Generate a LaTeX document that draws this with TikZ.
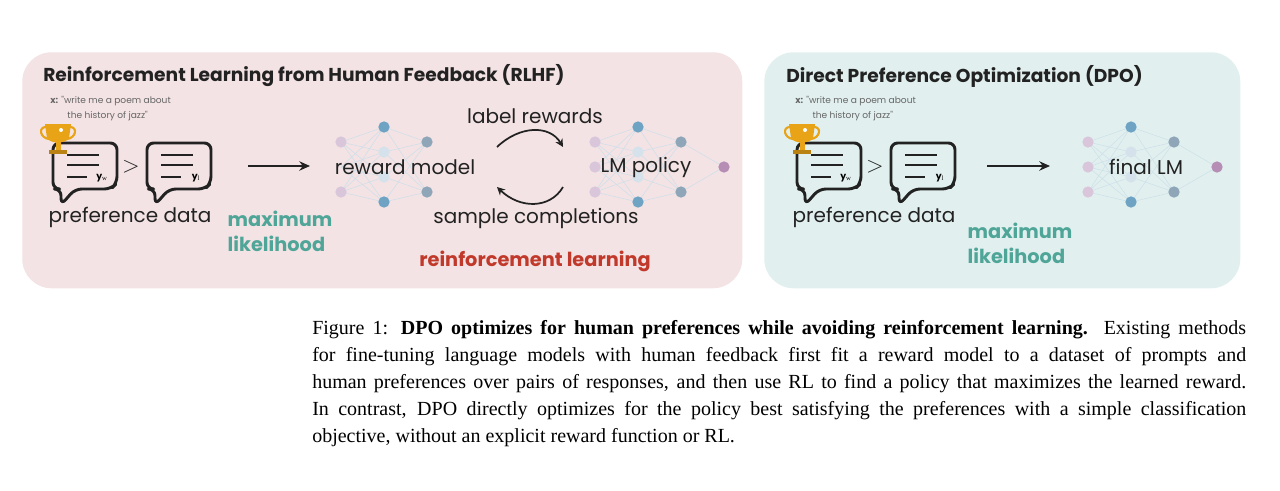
\documentclass[tikz,border=0pt]{standalone}
\usepackage{fontspec}
\setmainfont{Liberation Serif}
\newfontfamily\pop{Poppins}
\usetikzlibrary{arrows.meta}
\definecolor{pinkbg}{HTML}{F4E3E4}
\definecolor{tealbg}{HTML}{E1F0EF}
\definecolor{teal1}{HTML}{4FA597}
\definecolor{redl}{HTML}{C0392B}
\definecolor{nblue}{HTML}{6FA3C4}
\definecolor{nlblue}{HTML}{D6E2EB}
\definecolor{nslate}{HTML}{8EA6B8}
\definecolor{npurp}{HTML}{D9C6DA}
\definecolor{nout}{HTML}{B58DB5}
\definecolor{ink}{HTML}{222222}
\definecolor{gold}{HTML}{E8A317}
\tikzset{
  x=0.75pt,y=-0.75pt,
  lbl/.style={font=\pop\fontsize{15}{18}\selectfont,text=ink,inner sep=0},
  ttl/.style={font=\pop\bfseries\fontsize{14}{17}\selectfont,text=ink,inner sep=0,anchor=west},
  grn/.style={font=\pop\bfseries\fontsize{14.5}{17}\selectfont,text=teal1,inner sep=0,align=left},
  prompt/.style={font=\pop\fontsize{6.8}{11}\selectfont,text=black!60,inner sep=0,align=left,anchor=north west},
  neu/.style={circle,inner sep=0,minimum size=8.5pt},
  edge/.style={draw=nblue!35,line width=0.4pt},
  captxt/.style={font=\fontsize{15}{20}\selectfont,inner sep=0,anchor=base west},
  bub/.style={draw=ink,line width=2.2pt,line join=round,rounded corners=5pt},
  pics/bubble/.style args={#1}{code={
    \draw[bub] (8,46) -- (8,62) -- (22,46) -- (58,46) -- (64,40) -- (64,0) -- (0,0) -- (0,46) -- cycle;
    \draw[ink,line width=2pt] (14,12) -- (46,12) (14,22) -- (46,22) (14,34) -- (34,34);
    \node[inner sep=0,font=\pop\bfseries\fontsize{7}{8}\selectfont] at (49,35) {#1};
  }},
  pics/trophy/.style={code={
    \fill[gold] (-13,-16) -- (13,-16) -- (11,-2) .. controls (8,4) and (-8,4) .. (-11,-2) -- cycle;
    \draw[gold,line width=1.6pt] (-12,-13) .. controls (-20,-13) and (-18,-2) .. (-9,-1);
    \draw[gold,line width=1.6pt] (12,-13) .. controls (20,-13) and (18,-2) .. (9,-1);
    \fill[gold] (-2.5,2) rectangle (2.5,10);
    \fill[gold!80!black] (-9,10) rectangle (9,14);
    \fill[white] (3,-10) circle (1.5pt);
  }}
}
\newcommand\mynet[5]{% prefix, x0, y0 (center y), output?, middle-left?
  \foreach \i/\yy in {a/-25,b/0,c/25} \coordinate (#1L\i) at (#2,#3+\yy);
  \foreach \i/\yy in {a/-40,b/-15,c/10,d/35} \coordinate (#1M\i) at (#2+43,#3+\yy);
  \foreach \i/\yy in {a/-25,b/25} \coordinate (#1R\i) at (#2+86,#3+\yy);
  \coordinate (#1O) at (#2+129,#3);
  \foreach \p in {a,b,c}{\foreach \q in {a,b,c,d}{\draw[edge] (#1L\p) -- (#1M\q);}}
  \foreach \p in {a,b,c,d}{\foreach \q in {a,b}{\draw[edge] (#1M\p) -- (#1R\q);}}
  \ifnum#4=1 \foreach \q in {a,b}{\draw[edge] (#1R\q) -- (#1O);}\fi
  \node[neu,fill=npurp] at (#1La) {};
  \node[neu,fill=npurp] at (#1Lc) {};
  \ifnum#5=1 \node[neu,fill=npurp] at (#1Lb) {};\fi
  \node[neu,fill=nblue] at (#1Ma) {};
  \node[neu,fill=nlblue] at (#1Mb) {};
  \node[neu,fill=nlblue] at (#1Mc) {};
  \node[neu,fill=nblue] at (#1Md) {};
  \node[neu,fill=nslate] at (#1Ra) {};
  \node[neu,fill=nslate] at (#1Rb) {};
  \ifnum#4=1 \node[neu,fill=nout] at (#1O) {};\fi
}
\begin{document}
\begin{tikzpicture}
\useasboundingbox[fill=white] (0,0) rectangle (1280,490);
% panels
\node[fill=pinkbg,rounded corners=22pt,minimum width=540pt,minimum height=177pt,inner sep=0,anchor=north west] (rlhf) at (22,52) {};
\node[fill=tealbg,rounded corners=22pt,minimum width=357pt,minimum height=177pt,inner sep=0,anchor=north west] (dpo) at (764,52) {};
\node[ttl] (t1) at (43,76) {Reinforcement Learning from Human Feedback (RLHF)};
\node[ttl] (t2) at (786,76) {Direct Preference Optimization (DPO)};
% ---------- RLHF ----------
\node[prompt] (p1) at (50,96) {\textbf{x:} "write me a poem about\\\hspace*{1.9em}the history of jazz"};
\pic at (53,143) {bubble={y$_\mathrm{w}$}};
\pic at (147,143) {bubble={y$_\mathrm{l}$}};
\pic at (58,140) {trophy};
\node[lbl,font=\pop\fontsize{16}{18}\selectfont] (gt1) at (131,167) {$>$};
\node[lbl] (pd1) at (130,217) {preference data};
\node[grn] (ml1) at (280,231) {maximum\\[2pt]likelihood};
\coordinate (a1s) at (248,166);
\coordinate (a1e) at (310,166);
\draw[-{Stealth[length=8pt,width=7pt]},line width=1.6pt,ink] (a1s) -- (a1e);
\mynet{r}{341}{167}{0}{0}
\node[lbl] (rm) at (405,167) {reward model};
\mynet{p}{595}{167}{1}{1}
\node[lbl] (lm) at (646,167) {LM policy};
\node[lbl] (lr) at (535,116) {label rewards};
\node[lbl] (sc) at (536,218) {sample completions};
\node[font=\pop\bfseries\fontsize{14.5}{17}\selectfont,text=redl,inner sep=0] (rl) at (535,261) {reinforcement learning};
\draw[ink,line width=1.3pt,-{Stealth[length=6pt,width=6pt]}] (497,147) .. controls (520,125) and (550,125) .. (563,147);
\draw[ink,line width=1.3pt,-{Stealth[length=6pt,width=6pt]}] (563,187) .. controls (550,209) and (520,209) .. (497,187);
% ---------- DPO ----------
\node[prompt] (p2) at (795,96) {\textbf{x:} "write me a poem about\\\hspace*{1.9em}the history of jazz"};
\pic at (797,143) {bubble={y$_\mathrm{w}$}};
\pic at (891,143) {bubble={y$_\mathrm{l}$}};
\pic at (802,140) {trophy};
\node[lbl,font=\pop\fontsize{16}{18}\selectfont] (gt2) at (875,167) {$>$};
\node[lbl] (pd2) at (874,217) {preference data};
\node[grn] (ml2) at (1020,243) {maximum\\[2pt]likelihood};
\coordinate (a2s) at (987,166);
\coordinate (a2e) at (1050,166);
\draw[-{Stealth[length=8pt,width=7pt]},line width=1.6pt,ink] (a2s) -- (a2e);
\mynet{d}{1088}{167}{1}{1}
\node[lbl] (fl) at (1146,167) {final LM};
% ---------- caption ----------
\node[captxt] (c1) at (312,334) {\makebox[700.5pt][s]{Figure 1: \textbf{DPO optimizes for human preferences while avoiding reinforcement learning.} Existing methods}};
\node[captxt] (c2) at (312,361) {\makebox[700.5pt][s]{for fine-tuning language models with human feedback first fit a reward model to a dataset of prompts and}};
\node[captxt] (c3) at (312,388) {\makebox[700.5pt][s]{human preferences over pairs of responses, and then use RL to find a policy that maximizes the learned reward.}};
\node[captxt] (c4) at (312,415) {\makebox[700.5pt][s]{In contrast, DPO directly optimizes for the policy best satisfying the preferences with a simple classification}};
\node[captxt] (c5) at (312,442) {objective, without an explicit reward function or RL.};
\end{tikzpicture}
\end{document}
